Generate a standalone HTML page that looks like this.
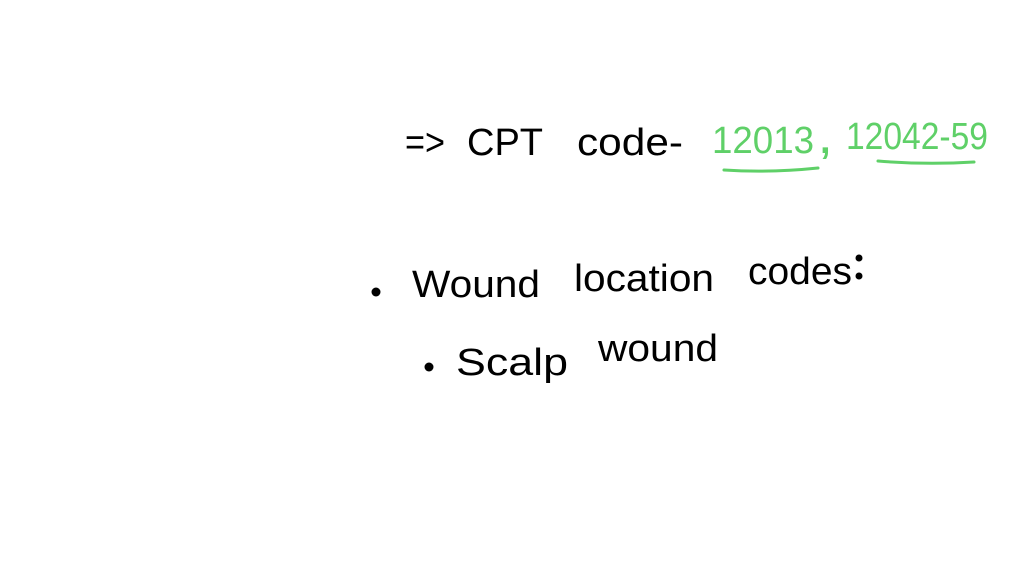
<!DOCTYPE html>
<html>
<head>
<meta charset="utf-8">
<style>
html,body{margin:0;padding:0;background:#fff;width:1024px;height:576px;overflow:hidden}
svg{display:block}
text{font-family:"Liberation Sans",sans-serif;font-size:38px;letter-spacing:0}
</style>
</head>
<body>
<svg width="1024" height="576" viewBox="0 0 1024 576" xmlns="http://www.w3.org/2000/svg">
<rect width="1024" height="576" fill="#fff"/>
<text x="405" y="155" fill="#000" textLength="40" lengthAdjust="spacingAndGlyphs">=&gt;</text>
<text x="467" y="155" fill="#000" textLength="76" lengthAdjust="spacingAndGlyphs">CPT</text>
<text x="577" y="155" fill="#000" textLength="106" lengthAdjust="spacingAndGlyphs">code-</text>
<text x="712" y="153" fill="#5fd068" textLength="102" lengthAdjust="spacingAndGlyphs">12013</text>
<text x="820" y="153" fill="#5fd068" font-weight="bold">,</text>
<text x="846" y="149" fill="#5fd068" textLength="142" lengthAdjust="spacingAndGlyphs">12042-59</text>
<path d="M724 170 Q770 173 818 168" fill="none" stroke="#5fd068" stroke-width="3" stroke-linecap="round"/>
<path d="M878 161 Q925 165 974 162" fill="none" stroke="#5fd068" stroke-width="3" stroke-linecap="round"/>
<circle cx="376" cy="292" r="4.5" fill="#000"/>
<text x="412" y="297" fill="#000" textLength="128" lengthAdjust="spacingAndGlyphs">Wound</text>
<text x="574" y="291" fill="#000" textLength="140" lengthAdjust="spacingAndGlyphs">location</text>
<text x="748" y="284" fill="#000" textLength="104" lengthAdjust="spacingAndGlyphs">codes</text>
<circle cx="859" cy="258" r="3.5" fill="#000"/>
<circle cx="859" cy="276" r="3.5" fill="#000"/>
<circle cx="429" cy="367" r="4.5" fill="#000"/>
<text x="456" y="375" fill="#000" textLength="112" lengthAdjust="spacingAndGlyphs">Scalp</text>
<text x="598" y="361" fill="#000" textLength="120" lengthAdjust="spacingAndGlyphs">wound</text>
</svg>
</body>
</html>
